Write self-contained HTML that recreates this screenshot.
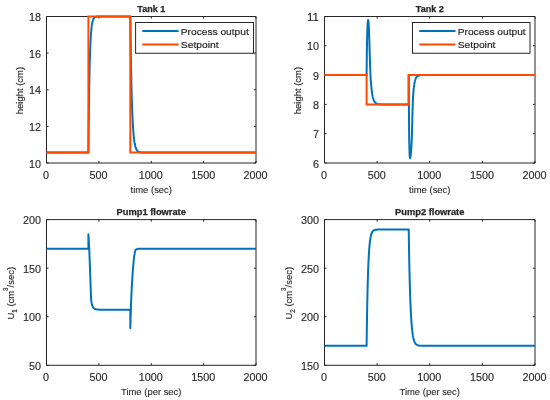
<!DOCTYPE html><html><head><meta charset="utf-8"><style>html,body{margin:0;padding:0;background:#fff;}svg{display:block;}text{font-family:"Liberation Sans", Arial, sans-serif;fill:#262626;}</style></head><body><svg width="550" height="400" viewBox="0 0 550 400"><rect width="550" height="400" fill="#fff"/><clipPath id="c1"><rect x="45.00" y="15.00" width="212.50" height="149.50"/></clipPath><path d="M46.50 16.50H256.00V163.00H46.50Z" fill="none" stroke="#262626" stroke-width="1"/><path d="M46.50 163.00V160.90M46.50 16.50V18.60M98.88 163.00V160.90M98.88 16.50V18.60M151.25 163.00V160.90M151.25 16.50V18.60M203.62 163.00V160.90M203.62 16.50V18.60M256.00 163.00V160.90M256.00 16.50V18.60M46.50 163.00H48.60M256.00 163.00H253.90M46.50 126.38H48.60M256.00 126.38H253.90M46.50 89.75H48.60M256.00 89.75H253.90M46.50 53.12H48.60M256.00 53.12H253.90M46.50 16.50H48.60M256.00 16.50H253.90" stroke="#262626" stroke-width="1" fill="none"/><g clip-path="url(#c1)" fill="none" stroke-width="2" stroke-linejoin="round"><path d="M46.50 152.56L48.59 152.56L50.69 152.56L52.78 152.56L54.88 152.56L56.98 152.56L59.07 152.56L61.16 152.56L63.26 152.56L65.36 152.56L67.45 152.56L69.55 152.56L71.64 152.56L73.73 152.56L75.83 152.56L77.92 152.56L80.02 152.56L82.12 152.56L84.21 152.56L86.31 152.56L88.40 152.56L88.40 152.56L88.45 147.01L88.50 141.68L88.56 136.57L88.61 131.67L88.66 126.97L88.71 122.47L88.77 118.14L88.82 113.99L88.87 110.01L88.92 106.20L88.98 102.54L89.03 99.03L89.08 95.66L89.13 92.43L89.19 89.33L89.24 86.36L89.29 83.51L89.34 80.77L89.40 78.15L89.45 75.63L89.50 73.22L89.55 70.90L89.60 68.68L89.66 66.55L89.71 64.51L89.76 62.55L89.81 60.67L89.87 58.87L89.92 57.14L89.97 55.48L90.02 53.89L90.08 52.37L90.13 50.90L90.18 49.50L90.23 48.15L90.29 46.86L90.34 45.62L90.39 44.43L90.44 43.29L90.50 42.20L90.55 41.15L90.60 40.14L90.65 39.18L90.70 38.25L90.76 37.37L90.81 36.51L90.86 35.70L90.91 34.91L90.97 34.16L91.02 33.44L91.07 32.75L91.12 32.09L91.18 31.45L91.23 30.84L91.28 30.26L91.33 29.69L91.39 29.16L91.44 28.64L91.49 28.14L91.54 27.67L91.59 27.21L91.65 26.78L91.70 26.36L91.75 25.95L91.80 25.57L91.86 25.20L91.91 24.84L91.96 24.50L92.01 24.18L92.07 23.86L92.12 23.56L92.17 23.27L92.22 23.00L92.28 22.73L92.33 22.48L92.38 22.23L92.43 22.00L92.49 21.78L92.54 21.56L92.59 21.35L92.64 21.16L92.69 20.97L92.75 20.78L92.80 20.61L92.85 20.44L92.90 20.28L92.96 20.13L93.01 19.98L93.06 19.84L93.11 19.70L93.17 19.57L93.22 19.44L93.27 19.32L93.32 19.21L93.38 19.10L93.43 18.99L93.48 18.89L93.53 18.79L93.59 18.70L93.64 18.61L93.69 18.52L93.74 18.44L93.79 18.36L93.85 18.29L93.90 18.21L93.95 18.14L94.00 18.08L94.06 18.01L94.11 17.95L94.16 17.89L94.21 17.83L94.27 17.78L94.32 17.73L94.37 17.68L94.42 17.63L94.48 17.58L94.53 17.54L94.58 17.50L94.63 17.46L94.69 17.42L94.74 17.38L94.79 17.34L94.84 17.31L94.89 17.28L94.95 17.24L95.00 17.21L95.05 17.18L95.10 17.16L95.16 17.13L95.21 17.10L95.26 17.08L95.31 17.06L95.37 17.03L95.42 17.01L95.47 16.99L95.52 16.97L95.58 16.95L95.63 16.93L95.68 16.92L95.73 16.90L95.78 16.88L95.84 16.87L95.89 16.85L95.94 16.84L95.99 16.82L96.05 16.81L96.10 16.80L96.15 16.79L96.20 16.77L96.26 16.76L96.31 16.75L96.36 16.74L96.41 16.73L96.47 16.72L96.52 16.71L96.57 16.70L96.62 16.70L96.68 16.69L96.73 16.68L96.78 16.67L96.83 16.67L96.88 16.66L96.94 16.65L96.99 16.65L97.04 16.64L97.09 16.63L97.15 16.63L97.20 16.62L97.25 16.62L97.30 16.61L97.36 16.61L97.41 16.61L97.46 16.60L97.51 16.60L97.57 16.59L97.62 16.59L97.67 16.59L97.72 16.58L97.78 16.58L97.83 16.58L97.88 16.57L97.93 16.57L97.98 16.57L98.04 16.56L98.09 16.56L98.14 16.56L98.19 16.56L98.25 16.55L98.30 16.55L98.35 16.55L98.40 16.55L98.46 16.55L98.51 16.54L98.56 16.54L98.61 16.54L98.67 16.54L98.72 16.54L98.77 16.54L98.82 16.53L98.88 16.53L98.93 16.53L98.98 16.53L99.03 16.53L99.08 16.53L99.14 16.53L99.19 16.53L99.24 16.52L99.29 16.52L99.35 16.52L99.40 16.52L99.45 16.52L99.50 16.52L99.56 16.52L99.61 16.52L99.66 16.52L99.71 16.52L99.77 16.52L99.82 16.52L99.87 16.51L99.92 16.51L99.97 16.51L100.03 16.51L100.08 16.51L100.13 16.51L100.18 16.51L100.24 16.51L100.29 16.51L100.34 16.51L100.39 16.51L100.45 16.51L100.50 16.51L100.55 16.51L100.60 16.51L100.66 16.51L100.71 16.51L100.76 16.51L100.81 16.51L100.87 16.51L100.92 16.51L100.97 16.51L101.02 16.51L101.07 16.51L101.13 16.51L101.18 16.51L101.23 16.51L101.28 16.50L101.34 16.50L101.39 16.50L101.44 16.50L101.49 16.50L101.55 16.50L101.60 16.50L101.65 16.50L101.70 16.50L101.76 16.50L101.81 16.50L101.86 16.50L101.91 16.50L101.97 16.50L102.02 16.50L102.07 16.50L102.12 16.50L102.17 16.50L102.23 16.50L102.28 16.50L102.33 16.50L102.38 16.50L102.44 16.50L102.49 16.50L102.54 16.50L102.59 16.50L102.65 16.50L102.70 16.50L102.75 16.50L102.80 16.50L102.86 16.50L102.91 16.50L102.96 16.50L103.01 16.50L103.06 16.50L103.12 16.50L103.17 16.50L103.22 16.50L103.27 16.50L103.33 16.50L103.38 16.50L103.43 16.50L103.48 16.50L103.54 16.50L103.59 16.50L103.64 16.50L103.69 16.50L103.75 16.50L103.80 16.50L103.85 16.50L103.90 16.50L103.96 16.50L104.01 16.50L104.06 16.50L104.11 16.50L104.16 16.50L104.22 16.50L104.27 16.50L104.32 16.50L104.37 16.50L104.43 16.50L104.48 16.50L104.53 16.50L104.58 16.50L104.64 16.50L104.69 16.50L104.74 16.50L104.79 16.50L104.85 16.50L104.90 16.50L104.95 16.50L105.00 16.50L105.06 16.50L105.11 16.50L105.16 16.50L107.25 16.50L109.35 16.50L111.44 16.50L113.54 16.50L115.64 16.50L117.73 16.50L119.83 16.50L121.92 16.50L124.02 16.50L126.11 16.50L128.20 16.50L130.30 16.50L130.30 16.50L130.35 20.82L130.40 25.00L130.46 29.05L130.51 32.97L130.56 36.77L130.61 40.44L130.67 44.00L130.72 47.45L130.77 50.78L130.82 54.02L130.88 57.14L130.93 60.17L130.98 63.11L131.03 65.94L131.09 68.69L131.14 71.36L131.19 73.93L131.24 76.43L131.30 78.85L131.35 81.19L131.40 83.45L131.45 85.65L131.50 87.77L131.56 89.83L131.61 91.82L131.66 93.75L131.71 95.61L131.77 97.42L131.82 99.17L131.87 100.87L131.92 102.51L131.98 104.10L132.03 105.63L132.08 107.12L132.13 108.57L132.19 109.96L132.24 111.32L132.29 112.62L132.34 113.89L132.39 115.12L132.45 116.31L132.50 117.46L132.55 118.57L132.60 119.65L132.66 120.70L132.71 121.71L132.76 122.69L132.81 123.64L132.87 124.55L132.92 125.44L132.97 126.30L133.02 127.14L133.08 127.94L133.13 128.73L133.18 129.48L133.23 130.22L133.29 130.92L133.34 131.61L133.39 132.28L133.44 132.92L133.49 133.54L133.55 134.15L133.60 134.73L133.65 135.30L133.70 135.85L133.76 136.38L133.81 136.89L133.86 137.39L133.91 137.87L133.97 138.34L134.02 138.79L134.07 139.23L134.12 139.65L134.18 140.06L134.23 140.46L134.28 140.84L134.33 141.21L134.39 141.57L134.44 141.92L134.49 142.26L134.54 142.59L134.59 142.90L134.65 143.21L134.70 143.51L134.75 143.79L134.80 144.07L134.86 144.34L134.91 144.60L134.96 144.85L135.01 145.10L135.07 145.34L135.12 145.57L135.17 145.79L135.22 146.00L135.28 146.21L135.33 146.41L135.38 146.61L135.43 146.80L135.49 146.98L135.54 147.16L135.59 147.33L135.64 147.49L135.69 147.66L135.75 147.81L135.80 147.96L135.85 148.11L135.90 148.25L135.96 148.39L136.01 148.52L136.06 148.65L136.11 148.77L136.17 148.89L136.22 149.01L136.27 149.12L136.32 149.23L136.38 149.34L136.43 149.44L136.48 149.54L136.53 149.63L136.58 149.73L136.64 149.82L136.69 149.90L136.74 149.99L136.79 150.07L136.85 150.15L136.90 150.23L136.95 150.30L137.00 150.37L137.06 150.44L137.11 150.51L137.16 150.57L137.21 150.64L137.27 150.70L137.32 150.76L137.37 150.81L137.42 150.87L137.48 150.92L137.53 150.98L137.58 151.03L137.63 151.07L137.68 151.12L137.74 151.17L137.79 151.21L137.84 151.25L137.89 151.30L137.95 151.34L138.00 151.38L138.05 151.41L138.10 151.45L138.16 151.48L138.21 151.52L138.26 151.55L138.31 151.58L138.37 151.62L138.42 151.65L138.47 151.67L138.52 151.70L138.58 151.73L138.63 151.76L138.68 151.78L138.73 151.81L138.78 151.83L138.84 151.85L138.89 151.88L138.94 151.90L138.99 151.92L139.05 151.94L139.10 151.96L139.15 151.98L139.20 152.00L139.26 152.01L139.31 152.03L139.36 152.05L139.41 152.07L139.47 152.08L139.52 152.10L139.57 152.11L139.62 152.13L139.68 152.14L139.73 152.15L139.78 152.17L139.83 152.18L139.88 152.19L139.94 152.20L139.99 152.21L140.04 152.22L140.09 152.24L140.15 152.25L140.20 152.26L140.25 152.27L140.30 152.27L140.36 152.28L140.41 152.29L140.46 152.30L140.51 152.31L140.57 152.32L140.62 152.33L140.67 152.33L140.72 152.34L140.78 152.35L140.83 152.35L140.88 152.36L140.93 152.37L140.98 152.37L141.04 152.38L141.09 152.38L141.14 152.39L141.19 152.40L141.25 152.40L141.30 152.41L141.35 152.41L141.40 152.42L141.46 152.42L141.51 152.43L141.56 152.43L141.61 152.43L141.67 152.44L141.72 152.44L141.77 152.45L141.82 152.45L141.87 152.45L141.93 152.46L141.98 152.46L142.03 152.46L142.08 152.47L142.14 152.47L142.19 152.47L142.24 152.47L142.29 152.48L142.35 152.48L142.40 152.48L142.45 152.49L142.50 152.49L142.56 152.49L142.61 152.49L142.66 152.49L142.71 152.50L142.77 152.50L142.82 152.50L142.87 152.50L142.92 152.50L142.97 152.51L143.03 152.51L143.08 152.51L143.13 152.51L143.18 152.51L143.24 152.51L143.29 152.52L143.34 152.52L143.39 152.52L143.45 152.52L143.50 152.52L143.55 152.52L143.60 152.52L143.66 152.53L143.71 152.53L143.76 152.53L143.81 152.53L143.87 152.53L143.92 152.53L143.97 152.53L144.02 152.53L144.07 152.53L144.13 152.53L144.18 152.54L144.23 152.54L144.28 152.54L144.34 152.54L144.39 152.54L144.44 152.54L144.49 152.54L144.55 152.54L144.60 152.54L144.65 152.54L144.70 152.54L144.76 152.54L144.81 152.54L144.86 152.54L144.91 152.55L144.97 152.55L145.02 152.55L145.07 152.55L145.12 152.55L145.17 152.55L145.23 152.55L145.28 152.55L145.33 152.55L145.38 152.55L145.44 152.55L145.49 152.55L145.54 152.55L145.59 152.55L145.65 152.55L145.70 152.55L145.75 152.55L145.80 152.55L145.86 152.55L145.91 152.55L145.96 152.55L146.01 152.55L146.06 152.55L146.12 152.55L146.17 152.55L146.22 152.55L146.27 152.55L146.33 152.55L146.38 152.56L146.43 152.56L146.48 152.56L146.54 152.56L146.59 152.56L146.64 152.56L146.69 152.56L146.75 152.56L146.80 152.56L146.85 152.56L146.90 152.56L146.96 152.56L147.01 152.56L147.06 152.56L149.16 152.56L151.25 152.56L153.34 152.56L155.44 152.56L157.53 152.56L159.63 152.56L161.72 152.56L163.82 152.56L165.92 152.56L168.01 152.56L170.11 152.56L172.20 152.56L174.30 152.56L176.39 152.56L178.49 152.56L180.58 152.56L182.68 152.56L184.77 152.56L186.87 152.56L188.96 152.56L191.06 152.56L193.15 152.56L195.25 152.56L197.34 152.56L199.44 152.56L201.53 152.56L203.62 152.56L205.72 152.56L207.81 152.56L209.91 152.56L212.00 152.56L214.10 152.56L216.19 152.56L218.29 152.56L220.38 152.56L222.48 152.56L224.57 152.56L226.67 152.56L228.76 152.56L230.86 152.56L232.96 152.56L235.05 152.56L237.15 152.56L239.24 152.56L241.34 152.56L243.43 152.56L245.53 152.56L247.62 152.56L249.72 152.56L251.81 152.56L253.91 152.56L256.00 152.56" stroke="#0072BD"/><path d="M46.50 152.56L88.40 152.56L88.40 16.50L130.30 16.50L130.30 152.56L256.00 152.56" stroke="#FF4A00" stroke-linejoin="miter" stroke-linecap="butt"/></g><text x="46.10" y="179.00" font-size="10.30" stroke="#262626" stroke-width="0.12" text-anchor="middle" textLength="6.01" lengthAdjust="spacingAndGlyphs">0</text><text x="98.47" y="179.00" font-size="10.30" stroke="#262626" stroke-width="0.12" text-anchor="middle" textLength="18.04" lengthAdjust="spacingAndGlyphs">500</text><text x="150.85" y="179.00" font-size="10.30" stroke="#262626" stroke-width="0.12" text-anchor="middle" textLength="24.05" lengthAdjust="spacingAndGlyphs">1000</text><text x="203.22" y="179.00" font-size="10.30" stroke="#262626" stroke-width="0.12" text-anchor="middle" textLength="24.05" lengthAdjust="spacingAndGlyphs">1500</text><text x="255.60" y="179.00" font-size="10.30" stroke="#262626" stroke-width="0.12" text-anchor="middle" textLength="24.05" lengthAdjust="spacingAndGlyphs">2000</text><text x="41.00" y="167.60" font-size="10.30" stroke="#262626" stroke-width="0.12" text-anchor="end" textLength="12.03" lengthAdjust="spacingAndGlyphs">10</text><text x="41.00" y="130.97" font-size="10.30" stroke="#262626" stroke-width="0.12" text-anchor="end" textLength="12.03" lengthAdjust="spacingAndGlyphs">12</text><text x="41.00" y="94.35" font-size="10.30" stroke="#262626" stroke-width="0.12" text-anchor="end" textLength="12.03" lengthAdjust="spacingAndGlyphs">14</text><text x="41.00" y="57.73" font-size="10.30" stroke="#262626" stroke-width="0.12" text-anchor="end" textLength="12.03" lengthAdjust="spacingAndGlyphs">16</text><text x="41.00" y="21.10" font-size="10.30" stroke="#262626" stroke-width="0.12" text-anchor="end" textLength="12.03" lengthAdjust="spacingAndGlyphs">18</text><text x="151.25" y="12.00" font-size="8.50" font-weight="bold" stroke="#262626" stroke-width="0.25" text-anchor="middle" textLength="27.9" lengthAdjust="spacingAndGlyphs">Tank 1</text><text x="151.25" y="192.60" font-size="9.45" stroke="#262626" stroke-width="0.1" text-anchor="middle">time (sec)</text><text transform="translate(22.50 90.55) rotate(-90)" x="0" y="0" font-size="9.45" stroke="#262626" stroke-width="0.15" text-anchor="middle">height (cm)</text><rect x="135.60" y="22.50" width="117.90" height="30.75" fill="#fff" stroke="#262626" stroke-width="1"/><path d="M142.30 31.10H178.60" stroke="#0072BD" stroke-width="2"/><path d="M142.30 44.50H178.60" stroke="#FF4A00" stroke-width="2"/><text x="180.80" y="34.60" font-size="9.75" stroke="#262626" stroke-width="0.18" textLength="68.0" lengthAdjust="spacingAndGlyphs">Process output</text><text x="180.80" y="47.60" font-size="9.75" stroke="#262626" stroke-width="0.18" textLength="37.8" lengthAdjust="spacingAndGlyphs">Setpoint</text><clipPath id="c2"><rect x="323.00" y="15.00" width="213.50" height="149.50"/></clipPath><path d="M324.50 16.50H535.00V163.00H324.50Z" fill="none" stroke="#262626" stroke-width="1"/><path d="M324.50 163.00V160.90M324.50 16.50V18.60M377.12 163.00V160.90M377.12 16.50V18.60M429.75 163.00V160.90M429.75 16.50V18.60M482.38 163.00V160.90M482.38 16.50V18.60M535.00 163.00V160.90M535.00 16.50V18.60M324.50 163.00H326.60M535.00 163.00H532.90M324.50 133.70H326.60M535.00 133.70H532.90M324.50 104.40H326.60M535.00 104.40H532.90M324.50 75.10H326.60M535.00 75.10H532.90M324.50 45.80H326.60M535.00 45.80H532.90M324.50 16.50H326.60M535.00 16.50H532.90" stroke="#262626" stroke-width="1" fill="none"/><g clip-path="url(#c2)" fill="none" stroke-width="2" stroke-linejoin="round"><path d="M324.50 75.10L326.61 75.10L328.71 75.10L330.81 75.10L332.92 75.10L335.02 75.10L337.13 75.10L339.24 75.10L341.34 75.10L343.44 75.10L345.55 75.10L347.65 75.10L349.76 75.10L351.87 75.10L353.97 75.10L356.07 75.10L358.18 75.10L360.28 75.10L362.39 75.10L364.50 75.10L366.60 75.10L366.60 75.10L366.65 69.92L366.71 65.00L366.76 60.38L366.81 56.11L366.86 52.21L366.92 48.73L366.97 45.55L367.02 42.57L367.07 39.80L367.13 37.30L367.18 35.09L367.23 33.20L367.28 31.52L367.34 29.92L367.39 28.41L367.44 27.03L367.49 25.80L367.55 24.74L367.60 23.88L367.65 23.24L367.71 22.72L367.76 22.23L367.81 21.77L367.86 21.35L367.92 20.97L367.97 20.65L368.02 20.38L368.07 20.18L368.13 20.06L368.18 20.02L368.23 20.09L368.28 20.28L368.34 20.60L368.39 21.01L368.44 21.50L368.49 22.06L368.55 22.68L368.60 23.34L368.65 24.02L368.70 24.70L368.76 25.49L368.81 26.46L368.86 27.58L368.92 28.82L368.97 30.18L369.02 31.61L369.07 33.09L369.13 34.60L369.18 36.11L369.23 37.60L369.28 39.11L369.34 40.71L369.39 42.39L369.44 44.11L369.49 45.87L369.55 47.65L369.60 49.43L369.65 51.19L369.70 52.92L369.76 54.59L369.81 56.27L369.86 57.99L369.92 59.76L369.97 61.53L370.02 63.29L370.07 65.02L370.13 66.70L370.18 68.31L370.23 69.83L370.28 71.24L370.34 72.51L370.39 73.63L370.44 74.65L370.49 75.62L370.55 76.55L370.60 77.44L370.65 78.29L370.70 79.10L370.76 79.88L370.81 80.63L370.86 81.34L370.92 82.03L370.97 82.69L371.02 83.32L371.07 83.93L371.13 84.52L371.18 85.09L371.23 85.65L371.28 86.19L371.34 86.72L371.39 87.25L371.44 87.76L371.49 88.27L371.55 88.76L371.60 89.25L371.65 89.72L371.70 90.19L371.76 90.64L371.81 91.08L371.86 91.51L371.92 91.93L371.97 92.33L372.02 92.72L372.07 93.10L372.13 93.47L372.18 93.82L372.23 94.15L372.28 94.48L372.34 94.78L372.39 95.07L372.44 95.35L372.49 95.61L372.55 95.86L372.60 96.10L372.65 96.34L372.70 96.57L372.76 96.80L372.81 97.02L372.86 97.24L372.92 97.45L372.97 97.65L373.02 97.85L373.07 98.05L373.13 98.24L373.18 98.42L373.23 98.60L373.28 98.77L373.34 98.94L373.39 99.11L373.44 99.27L373.49 99.42L373.55 99.57L373.60 99.71L373.65 99.85L373.70 99.99L373.76 100.12L373.81 100.24L373.86 100.36L373.91 100.48L373.97 100.59L374.02 100.70L374.07 100.81L374.13 100.91L374.18 101.02L374.23 101.12L374.28 101.22L374.34 101.32L374.39 101.41L374.44 101.51L374.49 101.60L374.55 101.69L374.60 101.78L374.65 101.86L374.70 101.95L374.76 102.03L374.81 102.11L374.86 102.19L374.91 102.26L374.97 102.33L375.02 102.40L375.07 102.47L375.13 102.53L375.18 102.59L375.23 102.65L375.28 102.71L375.34 102.76L375.39 102.81L375.44 102.85L375.49 102.90L375.55 102.93L375.60 102.97L375.65 103.01L375.70 103.05L375.76 103.08L375.81 103.12L375.86 103.15L375.91 103.19L375.97 103.22L376.02 103.25L376.07 103.29L376.13 103.32L376.18 103.35L376.23 103.38L376.28 103.41L376.34 103.44L376.39 103.47L376.44 103.50L376.49 103.53L376.55 103.56L376.60 103.59L376.65 103.61L376.70 103.64L376.76 103.67L376.81 103.69L376.86 103.72L376.91 103.74L376.97 103.76L377.02 103.78L377.07 103.81L377.12 103.83L377.18 103.85L377.23 103.87L377.28 103.89L377.34 103.91L377.39 103.92L377.44 103.94L377.49 103.96L377.55 103.97L377.60 103.99L377.65 104.00L377.70 104.02L377.76 104.03L377.81 104.04L377.86 104.05L377.91 104.06L377.97 104.07L378.02 104.08L378.07 104.09L378.12 104.10L378.18 104.11L378.23 104.11L378.28 104.12L378.34 104.13L378.39 104.13L378.44 104.14L378.49 104.15L378.55 104.15L378.60 104.16L378.65 104.16L378.70 104.17L378.76 104.18L378.81 104.18L378.86 104.19L378.91 104.19L378.97 104.20L379.02 104.21L379.07 104.21L379.12 104.22L379.18 104.22L379.23 104.23L379.28 104.23L379.34 104.24L379.39 104.24L379.44 104.25L379.49 104.25L379.55 104.26L379.60 104.26L379.65 104.27L379.70 104.27L379.76 104.28L379.81 104.28L379.86 104.29L379.91 104.29L379.97 104.30L380.02 104.30L380.07 104.30L380.12 104.31L380.18 104.31L380.23 104.32L380.28 104.32L380.34 104.32L380.39 104.33L380.44 104.33L380.49 104.34L380.55 104.34L380.60 104.34L380.65 104.35L380.70 104.35L380.76 104.35L380.81 104.35L380.86 104.36L380.91 104.36L380.97 104.36L381.02 104.37L381.07 104.37L381.12 104.37L381.18 104.37L381.23 104.38L381.28 104.38L381.33 104.38L381.39 104.38L381.44 104.38L381.49 104.39L381.55 104.39L381.60 104.39L381.65 104.39L381.70 104.39L381.76 104.39L381.81 104.39L381.86 104.39L381.91 104.40L381.97 104.40L382.02 104.40L382.07 104.40L382.12 104.40L382.18 104.40L382.23 104.40L382.28 104.40L382.33 104.40L382.39 104.40L382.44 104.40L382.49 104.40L382.55 104.40L382.60 104.40L382.65 104.40L382.70 104.40L382.76 104.40L382.81 104.40L382.86 104.40L382.91 104.40L382.97 104.40L383.02 104.40L383.07 104.40L383.12 104.40L383.18 104.40L383.23 104.40L383.28 104.40L383.33 104.40L383.39 104.40L383.44 104.40L385.55 104.40L387.65 104.40L389.75 104.40L391.86 104.40L393.97 104.40L396.07 104.40L398.18 104.40L400.28 104.40L402.38 104.40L404.49 104.40L406.60 104.40L408.70 104.40L408.70 75.10L408.75 82.42L408.81 89.75L408.86 97.08L408.91 104.40L408.96 112.36L409.02 120.74L409.07 128.27L409.12 133.70L409.17 137.36L409.23 140.50L409.28 143.18L409.33 145.48L409.38 147.48L409.44 149.23L409.49 150.87L409.54 152.42L409.59 153.83L409.65 155.03L409.70 155.96L409.75 156.55L409.81 156.95L409.86 157.30L409.91 157.59L409.96 157.82L410.02 157.97L410.07 158.02L410.12 157.98L410.17 157.89L410.23 157.74L410.28 157.55L410.33 157.33L410.38 157.08L410.44 156.82L410.49 156.55L410.54 156.26L410.59 155.89L410.65 155.47L410.70 155.00L410.75 154.49L410.81 153.94L410.86 153.37L410.91 152.78L410.96 152.18L411.02 151.57L411.07 150.96L411.12 150.32L411.17 149.65L411.23 148.95L411.28 148.22L411.33 147.45L411.38 146.64L411.44 145.79L411.49 144.90L411.54 143.95L411.59 142.95L411.65 141.87L411.70 140.72L411.75 139.48L411.80 138.16L411.86 136.76L411.91 135.27L411.96 133.70L412.02 131.91L412.07 129.84L412.12 127.56L412.17 125.17L412.23 122.75L412.28 120.38L412.33 118.14L412.38 116.12L412.44 114.26L412.49 112.44L412.54 110.67L412.59 108.96L412.65 107.33L412.70 105.77L412.75 104.31L412.80 102.93L412.86 101.63L412.91 100.35L412.96 99.12L413.02 97.95L413.07 96.86L413.12 95.85L413.17 94.94L413.23 94.15L413.28 93.43L413.33 92.76L413.38 92.13L413.44 91.53L413.49 90.96L413.54 90.43L413.59 89.92L413.65 89.43L413.70 88.96L413.75 88.51L413.80 88.07L413.86 87.65L413.91 87.23L413.96 86.82L414.02 86.42L414.07 86.02L414.12 85.63L414.17 85.26L414.23 84.89L414.28 84.53L414.33 84.19L414.38 83.86L414.44 83.54L414.49 83.23L414.54 82.93L414.59 82.65L414.65 82.38L414.70 82.13L414.75 81.89L414.80 81.65L414.86 81.41L414.91 81.17L414.96 80.93L415.01 80.70L415.07 80.48L415.12 80.26L415.17 80.04L415.23 79.84L415.28 79.63L415.33 79.44L415.38 79.25L415.44 79.08L415.49 78.91L415.54 78.75L415.59 78.60L415.65 78.46L415.70 78.34L415.75 78.22L415.80 78.12L415.86 78.03L415.91 77.95L415.96 77.87L416.01 77.79L416.07 77.72L416.12 77.64L416.17 77.57L416.23 77.50L416.28 77.43L416.33 77.36L416.38 77.30L416.44 77.24L416.49 77.17L416.54 77.11L416.59 77.06L416.65 77.00L416.70 76.94L416.75 76.89L416.80 76.84L416.86 76.79L416.91 76.74L416.96 76.69L417.01 76.65L417.07 76.60L417.12 76.56L417.17 76.51L417.23 76.47L417.28 76.43L417.33 76.40L417.38 76.36L417.44 76.32L417.49 76.29L417.54 76.26L417.59 76.22L417.65 76.19L417.70 76.16L417.75 76.13L417.80 76.10L417.86 76.08L417.91 76.05L417.96 76.03L418.01 76.00L418.07 75.98L418.12 75.96L418.17 75.93L418.23 75.91L418.28 75.89L418.33 75.87L418.38 75.84L418.44 75.82L418.49 75.80L418.54 75.78L418.59 75.76L418.65 75.74L418.70 75.72L418.75 75.69L418.80 75.67L418.86 75.65L418.91 75.63L418.96 75.61L419.01 75.59L419.07 75.57L419.12 75.55L419.17 75.54L419.23 75.52L419.28 75.50L419.33 75.48L419.38 75.46L419.44 75.45L419.49 75.43L419.54 75.41L419.59 75.39L419.65 75.38L419.70 75.36L419.75 75.35L419.80 75.33L419.86 75.32L419.91 75.30L419.96 75.29L420.01 75.28L420.07 75.26L420.12 75.25L420.17 75.24L420.22 75.23L420.28 75.22L420.33 75.21L420.38 75.19L420.44 75.18L420.49 75.18L420.54 75.17L420.59 75.16L420.65 75.15L420.70 75.14L420.75 75.14L420.80 75.13L420.86 75.12L420.91 75.12L420.96 75.12L421.01 75.11L421.07 75.11L421.12 75.11L421.17 75.10L421.22 75.10L421.28 75.10L421.33 75.10L421.38 75.10L421.44 75.10L421.49 75.10L421.54 75.10L421.59 75.10L421.65 75.10L421.70 75.10L421.75 75.10L421.80 75.10L421.86 75.10L421.91 75.10L421.96 75.10L422.01 75.10L422.07 75.10L422.12 75.10L422.17 75.10L422.22 75.10L422.28 75.10L422.33 75.10L422.38 75.10L422.44 75.10L422.49 75.10L422.54 75.10L422.59 75.10L422.65 75.10L422.70 75.10L422.75 75.10L422.80 75.10L422.86 75.10L422.91 75.10L422.96 75.10L423.01 75.10L423.07 75.10L423.12 75.10L423.17 75.10L423.22 75.10L423.28 75.10L423.33 75.10L423.38 75.10L423.44 75.10L423.49 75.10L423.54 75.10L423.59 75.10L423.65 75.10L423.70 75.10L423.75 75.10L423.80 75.10L423.86 75.10L423.91 75.10L423.96 75.10L424.01 75.10L424.07 75.10L424.12 75.10L424.17 75.10L424.22 75.10L424.28 75.10L424.33 75.10L424.38 75.10L424.43 75.10L424.49 75.10L424.54 75.10L424.59 75.10L424.65 75.10L424.70 75.10L424.75 75.10L424.80 75.10L424.86 75.10L424.91 75.10L424.96 75.10L425.01 75.10L425.07 75.10L425.12 75.10L425.17 75.10L425.22 75.10L425.28 75.10L425.33 75.10L425.38 75.10L425.43 75.10L425.49 75.10L425.54 75.10L427.64 75.10L429.75 75.10L431.86 75.10L433.96 75.10L436.06 75.10L438.17 75.10L440.27 75.10L442.38 75.10L444.49 75.10L446.59 75.10L448.69 75.10L450.80 75.10L452.90 75.10L455.01 75.10L457.12 75.10L459.22 75.10L461.32 75.10L463.43 75.10L465.53 75.10L467.64 75.10L469.75 75.10L471.85 75.10L473.96 75.10L476.06 75.10L478.16 75.10L480.27 75.10L482.38 75.10L484.48 75.10L486.59 75.10L488.69 75.10L490.79 75.10L492.90 75.10L495.00 75.10L497.11 75.10L499.22 75.10L501.32 75.10L503.43 75.10L505.53 75.10L507.63 75.10L509.74 75.10L511.85 75.10L513.95 75.10L516.06 75.10L518.16 75.10L520.26 75.10L522.37 75.10L524.48 75.10L526.58 75.10L528.68 75.10L530.79 75.10L532.89 75.10L535.00 75.10" stroke="#0072BD"/><path d="M324.50 75.10L366.60 75.10L366.60 104.40L408.70 104.40L408.70 75.10L535.00 75.10" stroke="#FF4A00" stroke-linejoin="miter" stroke-linecap="butt"/></g><text x="324.10" y="179.00" font-size="10.30" stroke="#262626" stroke-width="0.12" text-anchor="middle" textLength="6.01" lengthAdjust="spacingAndGlyphs">0</text><text x="376.73" y="179.00" font-size="10.30" stroke="#262626" stroke-width="0.12" text-anchor="middle" textLength="18.04" lengthAdjust="spacingAndGlyphs">500</text><text x="429.35" y="179.00" font-size="10.30" stroke="#262626" stroke-width="0.12" text-anchor="middle" textLength="24.05" lengthAdjust="spacingAndGlyphs">1000</text><text x="481.98" y="179.00" font-size="10.30" stroke="#262626" stroke-width="0.12" text-anchor="middle" textLength="24.05" lengthAdjust="spacingAndGlyphs">1500</text><text x="534.60" y="179.00" font-size="10.30" stroke="#262626" stroke-width="0.12" text-anchor="middle" textLength="24.05" lengthAdjust="spacingAndGlyphs">2000</text><text x="319.00" y="167.60" font-size="10.30" stroke="#262626" stroke-width="0.12" text-anchor="end" textLength="6.01" lengthAdjust="spacingAndGlyphs">6</text><text x="319.00" y="138.30" font-size="10.30" stroke="#262626" stroke-width="0.12" text-anchor="end" textLength="6.01" lengthAdjust="spacingAndGlyphs">7</text><text x="319.00" y="109.00" font-size="10.30" stroke="#262626" stroke-width="0.12" text-anchor="end" textLength="6.01" lengthAdjust="spacingAndGlyphs">8</text><text x="319.00" y="79.70" font-size="10.30" stroke="#262626" stroke-width="0.12" text-anchor="end" textLength="6.01" lengthAdjust="spacingAndGlyphs">9</text><text x="319.00" y="50.40" font-size="10.30" stroke="#262626" stroke-width="0.12" text-anchor="end" textLength="12.03" lengthAdjust="spacingAndGlyphs">10</text><text x="319.00" y="21.10" font-size="10.30" stroke="#262626" stroke-width="0.12" text-anchor="end" textLength="12.03" lengthAdjust="spacingAndGlyphs">11</text><text x="429.75" y="12.00" font-size="8.50" font-weight="bold" stroke="#262626" stroke-width="0.25" text-anchor="middle" textLength="27.9" lengthAdjust="spacingAndGlyphs">Tank 2</text><text x="429.75" y="192.60" font-size="9.45" stroke="#262626" stroke-width="0.1" text-anchor="middle">time (sec)</text><text transform="translate(300.50 90.55) rotate(-90)" x="0" y="0" font-size="9.45" stroke="#262626" stroke-width="0.15" text-anchor="middle">height (cm)</text><rect x="412.50" y="22.50" width="117.50" height="30.75" fill="#fff" stroke="#262626" stroke-width="1"/><path d="M419.20 31.10H455.50" stroke="#0072BD" stroke-width="2"/><path d="M419.20 44.50H455.50" stroke="#FF4A00" stroke-width="2"/><text x="457.70" y="34.60" font-size="9.75" stroke="#262626" stroke-width="0.18" textLength="68.0" lengthAdjust="spacingAndGlyphs">Process output</text><text x="457.70" y="47.60" font-size="9.75" stroke="#262626" stroke-width="0.18" textLength="37.8" lengthAdjust="spacingAndGlyphs">Setpoint</text><clipPath id="c3"><rect x="45.00" y="218.10" width="212.50" height="148.70"/></clipPath><path d="M46.50 219.60H256.00V365.30H46.50Z" fill="none" stroke="#262626" stroke-width="1"/><path d="M46.50 365.30V363.20M46.50 219.60V221.70M98.88 365.30V363.20M98.88 219.60V221.70M151.25 365.30V363.20M151.25 219.60V221.70M203.62 365.30V363.20M203.62 219.60V221.70M256.00 365.30V363.20M256.00 219.60V221.70M46.50 365.30H48.60M256.00 365.30H253.90M46.50 316.73H48.60M256.00 316.73H253.90M46.50 268.17H48.60M256.00 268.17H253.90M46.50 219.60H48.60M256.00 219.60H253.90" stroke="#262626" stroke-width="1" fill="none"/><g clip-path="url(#c3)" fill="none" stroke-width="2" stroke-linejoin="round"><path d="M46.50 248.74L48.59 248.74L50.69 248.74L52.78 248.74L54.88 248.74L56.98 248.74L59.07 248.74L61.16 248.74L63.26 248.74L65.36 248.74L67.45 248.74L69.55 248.74L71.64 248.74L73.73 248.74L75.83 248.74L77.92 248.74L80.02 248.74L82.12 248.74L84.21 248.74L86.31 248.74L88.40 248.74L88.40 234.36L88.45 235.16L88.50 235.99L88.56 236.83L88.61 237.70L88.66 238.58L88.71 239.49L88.77 240.42L88.82 241.37L88.87 242.34L88.92 243.33L88.98 244.35L89.03 245.38L89.08 246.42L89.13 247.49L89.19 248.58L89.24 249.68L89.29 250.81L89.34 251.99L89.40 253.21L89.45 254.46L89.50 255.75L89.55 257.07L89.60 258.42L89.66 259.79L89.71 261.19L89.76 262.60L89.81 264.03L89.87 265.46L89.92 266.91L89.97 268.35L90.02 269.80L90.08 271.24L90.13 272.68L90.18 274.11L90.23 275.52L90.29 276.92L90.34 278.30L90.39 279.65L90.44 281.02L90.50 282.47L90.55 283.98L90.60 285.54L90.65 287.13L90.70 288.71L90.76 290.28L90.81 291.80L90.86 293.27L90.91 294.66L90.97 295.94L91.02 297.10L91.07 298.11L91.12 298.96L91.18 299.62L91.23 300.11L91.28 300.56L91.33 300.98L91.39 301.36L91.44 301.73L91.49 302.07L91.54 302.39L91.59 302.68L91.65 302.96L91.70 303.22L91.75 303.47L91.80 303.69L91.86 303.91L91.91 304.12L91.96 304.31L92.01 304.50L92.07 304.68L92.12 304.86L92.17 305.03L92.22 305.20L92.28 305.36L92.33 305.53L92.38 305.69L92.43 305.84L92.49 305.99L92.54 306.14L92.59 306.28L92.64 306.42L92.69 306.55L92.75 306.68L92.80 306.81L92.85 306.92L92.90 307.04L92.96 307.14L93.01 307.25L93.06 307.34L93.11 307.43L93.17 307.51L93.22 307.59L93.27 307.66L93.32 307.72L93.38 307.78L93.43 307.83L93.48 307.87L93.53 307.92L93.59 307.97L93.64 308.02L93.69 308.06L93.74 308.11L93.79 308.15L93.85 308.20L93.90 308.24L93.95 308.28L94.00 308.32L94.06 308.36L94.11 308.41L94.16 308.45L94.21 308.49L94.27 308.52L94.32 308.56L94.37 308.60L94.42 308.64L94.48 308.67L94.53 308.71L94.58 308.74L94.63 308.78L94.69 308.81L94.74 308.84L94.79 308.88L94.84 308.91L94.89 308.94L94.95 308.97L95.00 309.00L95.05 309.03L95.10 309.05L95.16 309.08L95.21 309.11L95.26 309.13L95.31 309.16L95.37 309.18L95.42 309.21L95.47 309.23L95.52 309.25L95.58 309.27L95.63 309.29L95.68 309.31L95.73 309.33L95.78 309.35L95.84 309.37L95.89 309.38L95.94 309.40L95.99 309.42L96.05 309.43L96.10 309.44L96.15 309.46L96.20 309.47L96.26 309.48L96.31 309.49L96.36 309.50L96.41 309.51L96.47 309.52L96.52 309.52L96.57 309.53L96.62 309.53L96.68 309.54L96.73 309.54L96.78 309.55L96.83 309.55L96.88 309.55L96.94 309.55L96.99 309.55L97.04 309.56L97.09 309.56L97.15 309.56L97.20 309.56L97.25 309.57L97.30 309.57L97.36 309.57L97.41 309.57L97.46 309.57L97.51 309.58L97.57 309.58L97.62 309.58L97.67 309.58L97.72 309.58L97.78 309.59L97.83 309.59L97.88 309.59L97.93 309.59L97.98 309.59L98.04 309.59L98.09 309.60L98.14 309.60L98.19 309.60L98.25 309.60L98.30 309.60L98.35 309.60L98.40 309.61L98.46 309.61L98.51 309.61L98.56 309.61L98.61 309.61L98.67 309.61L98.72 309.61L98.77 309.62L98.82 309.62L98.88 309.62L98.93 309.62L98.98 309.62L99.03 309.62L99.08 309.62L99.14 309.62L99.19 309.62L99.24 309.63L99.29 309.63L99.35 309.63L99.40 309.63L99.45 309.63L99.50 309.63L99.56 309.63L99.61 309.63L99.66 309.63L99.71 309.63L99.77 309.63L99.82 309.64L99.87 309.64L99.92 309.64L99.97 309.64L100.03 309.64L100.08 309.64L100.13 309.64L100.18 309.64L100.24 309.64L100.29 309.64L100.34 309.64L100.39 309.64L100.45 309.64L100.50 309.64L100.55 309.64L100.60 309.64L100.66 309.64L100.71 309.64L100.76 309.64L100.81 309.64L100.87 309.64L100.92 309.64L100.97 309.64L101.02 309.64L101.07 309.64L101.13 309.64L101.18 309.64L101.23 309.64L101.28 309.64L101.34 309.64L101.39 309.64L101.44 309.64L101.49 309.64L101.55 309.64L101.60 309.64L101.65 309.64L101.70 309.64L101.76 309.64L101.81 309.64L101.86 309.64L101.91 309.64L101.97 309.64L102.02 309.64L102.07 309.64L102.12 309.64L102.17 309.64L102.23 309.64L102.28 309.64L102.33 309.64L102.38 309.64L102.44 309.64L102.49 309.64L102.54 309.64L102.59 309.64L102.65 309.64L102.70 309.64L102.75 309.64L102.80 309.64L102.86 309.64L102.91 309.64L102.96 309.64L103.01 309.64L103.06 309.64L103.12 309.64L103.17 309.64L103.22 309.64L103.27 309.64L103.33 309.64L103.38 309.64L103.43 309.64L103.48 309.64L103.54 309.64L103.59 309.64L103.64 309.64L103.69 309.64L103.75 309.64L103.80 309.64L103.85 309.64L103.90 309.64L103.96 309.64L104.01 309.64L104.06 309.64L104.11 309.64L104.16 309.64L104.22 309.64L104.27 309.64L104.32 309.64L104.37 309.64L104.43 309.64L104.48 309.64L104.53 309.64L104.58 309.64L104.64 309.64L104.69 309.64L104.74 309.64L104.79 309.64L104.85 309.64L104.90 309.64L104.95 309.64L105.00 309.64L105.06 309.64L105.11 309.64L105.16 309.64L107.25 309.64L109.35 309.64L111.44 309.64L113.54 309.64L115.64 309.64L117.73 309.64L119.83 309.64L121.92 309.64L124.02 309.64L126.11 309.64L128.20 309.64L130.30 309.64L130.30 328.20L130.35 326.30L130.40 324.42L130.46 322.55L130.51 320.70L130.56 318.87L130.61 317.07L130.67 315.31L130.72 313.57L130.77 311.87L130.82 310.22L130.88 308.61L130.93 307.04L130.98 305.53L131.03 304.08L131.09 302.68L131.14 301.34L131.19 300.08L131.24 298.86L131.30 297.67L131.35 296.50L131.40 295.35L131.45 294.21L131.50 293.10L131.56 292.01L131.61 290.93L131.66 289.88L131.71 288.84L131.77 287.83L131.82 286.83L131.87 285.84L131.92 284.88L131.98 283.93L132.03 283.00L132.08 282.09L132.13 281.20L132.19 280.32L132.24 279.46L132.29 278.61L132.34 277.78L132.39 276.97L132.45 276.17L132.50 275.39L132.55 274.62L132.60 273.87L132.66 273.13L132.71 272.40L132.76 271.69L132.81 271.00L132.87 270.32L132.92 269.65L132.97 268.99L133.02 268.33L133.08 267.68L133.13 267.03L133.18 266.39L133.23 265.76L133.29 265.13L133.34 264.52L133.39 263.91L133.44 263.31L133.49 262.73L133.55 262.15L133.60 261.59L133.65 261.04L133.70 260.50L133.76 259.98L133.81 259.46L133.86 258.97L133.91 258.49L133.97 258.02L134.02 257.58L134.07 257.14L134.12 256.73L134.18 256.34L134.23 255.96L134.28 255.61L134.33 255.27L134.39 254.96L134.44 254.65L134.49 254.35L134.54 254.05L134.59 253.75L134.65 253.46L134.70 253.17L134.75 252.89L134.80 252.61L134.86 252.34L134.91 252.08L134.96 251.83L135.01 251.59L135.07 251.37L135.12 251.15L135.17 250.95L135.22 250.76L135.28 250.59L135.33 250.43L135.38 250.29L135.43 250.17L135.49 250.06L135.54 249.98L135.59 249.92L135.64 249.87L135.69 249.82L135.75 249.78L135.80 249.73L135.85 249.69L135.90 249.65L135.96 249.61L136.01 249.57L136.06 249.53L136.11 249.50L136.17 249.46L136.22 249.43L136.27 249.40L136.32 249.37L136.38 249.34L136.43 249.31L136.48 249.28L136.53 249.25L136.58 249.23L136.64 249.21L136.69 249.18L136.74 249.16L136.79 249.14L136.85 249.12L136.90 249.10L136.95 249.08L137.00 249.07L137.06 249.05L137.11 249.03L137.16 249.02L137.21 249.01L137.27 249.00L137.32 248.98L137.37 248.97L137.42 248.96L137.48 248.96L137.53 248.95L137.58 248.94L137.63 248.93L137.68 248.93L137.74 248.92L137.79 248.92L137.84 248.91L137.89 248.91L137.95 248.90L138.00 248.90L138.05 248.89L138.10 248.89L138.16 248.88L138.21 248.88L138.26 248.87L138.31 248.87L138.37 248.86L138.42 248.86L138.47 248.85L138.52 248.85L138.58 248.84L138.63 248.84L138.68 248.83L138.73 248.83L138.78 248.83L138.84 248.82L138.89 248.82L138.94 248.81L138.99 248.81L139.05 248.81L139.10 248.80L139.15 248.80L139.20 248.80L139.26 248.79L139.31 248.79L139.36 248.79L139.41 248.78L139.47 248.78L139.52 248.78L139.57 248.78L139.62 248.77L139.68 248.77L139.73 248.77L139.78 248.77L139.83 248.76L139.88 248.76L139.94 248.76L139.99 248.76L140.04 248.76L140.09 248.75L140.15 248.75L140.20 248.75L140.25 248.75L140.30 248.75L140.36 248.75L140.41 248.75L140.46 248.75L140.51 248.74L140.57 248.74L140.62 248.74L140.67 248.74L140.72 248.74L140.78 248.74L140.83 248.74L140.88 248.74L140.93 248.74L140.98 248.74L141.04 248.74L141.09 248.74L141.14 248.74L141.19 248.74L141.25 248.74L141.30 248.74L141.35 248.74L141.40 248.74L141.46 248.74L141.51 248.74L141.56 248.74L141.61 248.74L141.67 248.74L141.72 248.74L141.77 248.74L141.82 248.74L141.87 248.74L141.93 248.74L141.98 248.74L142.03 248.74L142.08 248.74L142.14 248.74L142.19 248.74L142.24 248.74L142.29 248.74L142.35 248.74L142.40 248.74L142.45 248.74L142.50 248.74L142.56 248.74L142.61 248.74L142.66 248.74L142.71 248.74L142.77 248.74L142.82 248.74L142.87 248.74L142.92 248.74L142.97 248.74L143.03 248.74L143.08 248.74L143.13 248.74L143.18 248.74L143.24 248.74L143.29 248.74L143.34 248.74L143.39 248.74L143.45 248.74L143.50 248.74L143.55 248.74L143.60 248.74L143.66 248.74L143.71 248.74L143.76 248.74L143.81 248.74L143.87 248.74L143.92 248.74L143.97 248.74L144.02 248.74L144.07 248.74L144.13 248.74L144.18 248.74L144.23 248.74L144.28 248.74L144.34 248.74L144.39 248.74L144.44 248.74L144.49 248.74L144.55 248.74L144.60 248.74L144.65 248.74L144.70 248.74L144.76 248.74L144.81 248.74L144.86 248.74L144.91 248.74L144.97 248.74L145.02 248.74L145.07 248.74L145.12 248.74L145.17 248.74L145.23 248.74L145.28 248.74L145.33 248.74L145.38 248.74L145.44 248.74L145.49 248.74L145.54 248.74L145.59 248.74L145.65 248.74L145.70 248.74L145.75 248.74L145.80 248.74L145.86 248.74L145.91 248.74L145.96 248.74L146.01 248.74L146.06 248.74L146.12 248.74L146.17 248.74L146.22 248.74L146.27 248.74L146.33 248.74L146.38 248.74L146.43 248.74L146.48 248.74L146.54 248.74L146.59 248.74L146.64 248.74L146.69 248.74L146.75 248.74L146.80 248.74L146.85 248.74L146.90 248.74L146.96 248.74L147.01 248.74L147.06 248.74L149.16 248.74L151.25 248.74L153.34 248.74L155.44 248.74L157.53 248.74L159.63 248.74L161.72 248.74L163.82 248.74L165.92 248.74L168.01 248.74L170.11 248.74L172.20 248.74L174.30 248.74L176.39 248.74L178.49 248.74L180.58 248.74L182.68 248.74L184.77 248.74L186.87 248.74L188.96 248.74L191.06 248.74L193.15 248.74L195.25 248.74L197.34 248.74L199.44 248.74L201.53 248.74L203.62 248.74L205.72 248.74L207.81 248.74L209.91 248.74L212.00 248.74L214.10 248.74L216.19 248.74L218.29 248.74L220.38 248.74L222.48 248.74L224.57 248.74L226.67 248.74L228.76 248.74L230.86 248.74L232.96 248.74L235.05 248.74L237.15 248.74L239.24 248.74L241.34 248.74L243.43 248.74L245.53 248.74L247.62 248.74L249.72 248.74L251.81 248.74L253.91 248.74L256.00 248.74" stroke="#0072BD"/></g><text x="46.10" y="381.30" font-size="10.30" stroke="#262626" stroke-width="0.12" text-anchor="middle" textLength="6.01" lengthAdjust="spacingAndGlyphs">0</text><text x="98.47" y="381.30" font-size="10.30" stroke="#262626" stroke-width="0.12" text-anchor="middle" textLength="18.04" lengthAdjust="spacingAndGlyphs">500</text><text x="150.85" y="381.30" font-size="10.30" stroke="#262626" stroke-width="0.12" text-anchor="middle" textLength="24.05" lengthAdjust="spacingAndGlyphs">1000</text><text x="203.22" y="381.30" font-size="10.30" stroke="#262626" stroke-width="0.12" text-anchor="middle" textLength="24.05" lengthAdjust="spacingAndGlyphs">1500</text><text x="255.60" y="381.30" font-size="10.30" stroke="#262626" stroke-width="0.12" text-anchor="middle" textLength="24.05" lengthAdjust="spacingAndGlyphs">2000</text><text x="41.00" y="369.90" font-size="10.30" stroke="#262626" stroke-width="0.12" text-anchor="end" textLength="12.03" lengthAdjust="spacingAndGlyphs">50</text><text x="41.00" y="321.33" font-size="10.30" stroke="#262626" stroke-width="0.12" text-anchor="end" textLength="18.04" lengthAdjust="spacingAndGlyphs">100</text><text x="41.00" y="272.77" font-size="10.30" stroke="#262626" stroke-width="0.12" text-anchor="end" textLength="18.04" lengthAdjust="spacingAndGlyphs">150</text><text x="41.00" y="224.20" font-size="10.30" stroke="#262626" stroke-width="0.12" text-anchor="end" textLength="18.04" lengthAdjust="spacingAndGlyphs">200</text><text x="151.25" y="215.10" font-size="8.50" font-weight="bold" stroke="#262626" stroke-width="0.25" text-anchor="middle" textLength="69.3" lengthAdjust="spacingAndGlyphs">Pump1 flowrate</text><text x="151.25" y="394.90" font-size="9.45" stroke="#262626" stroke-width="0.1" text-anchor="middle">Time (per sec)</text><text transform="translate(13.70 293.25) rotate(-90)" x="0" y="0" font-size="9.45" stroke="#262626" stroke-width="0.15" text-anchor="middle">U<tspan font-size="6.3" dy="3.3">1</tspan><tspan dy="-3.3"> (cm</tspan><tspan font-size="6.3" dy="-5.6">3</tspan><tspan dy="5.6">/sec)</tspan></text><clipPath id="c4"><rect x="323.00" y="218.10" width="213.50" height="148.70"/></clipPath><path d="M324.50 219.60H535.00V365.30H324.50Z" fill="none" stroke="#262626" stroke-width="1"/><path d="M324.50 365.30V363.20M324.50 219.60V221.70M377.12 365.30V363.20M377.12 219.60V221.70M429.75 365.30V363.20M429.75 219.60V221.70M482.38 365.30V363.20M482.38 219.60V221.70M535.00 365.30V363.20M535.00 219.60V221.70M324.50 365.30H326.60M535.00 365.30H532.90M324.50 316.73H326.60M535.00 316.73H532.90M324.50 268.17H326.60M535.00 268.17H532.90M324.50 219.60H326.60M535.00 219.60H532.90" stroke="#262626" stroke-width="1" fill="none"/><g clip-path="url(#c4)" fill="none" stroke-width="2" stroke-linejoin="round"><path d="M324.50 345.87L326.61 345.87L328.71 345.87L330.81 345.87L332.92 345.87L335.02 345.87L337.13 345.87L339.24 345.87L341.34 345.87L343.44 345.87L345.55 345.87L347.65 345.87L349.76 345.87L351.87 345.87L353.97 345.87L356.07 345.87L358.18 345.87L360.28 345.87L362.39 345.87L364.50 345.87L366.60 345.87L366.60 345.87L366.65 341.79L366.71 337.85L366.76 334.05L366.81 330.38L366.86 326.84L366.92 323.43L366.97 320.13L367.02 316.95L367.07 313.89L367.13 310.93L367.18 308.07L367.23 305.31L367.28 302.65L367.34 300.09L367.39 297.61L367.44 295.22L367.49 292.92L367.55 290.69L367.60 288.54L367.65 286.47L367.71 284.47L367.76 282.55L367.81 280.69L367.86 278.89L367.92 277.16L367.97 275.49L368.02 273.87L368.07 272.32L368.13 270.81L368.18 269.37L368.23 267.97L368.28 266.62L368.34 265.32L368.39 264.06L368.44 262.85L368.49 261.68L368.55 260.55L368.60 259.46L368.65 258.41L368.70 257.39L368.76 256.42L368.81 255.47L368.86 254.56L368.92 253.68L368.97 252.83L369.02 252.02L369.07 251.23L369.13 250.46L369.18 249.73L369.23 249.02L369.28 248.33L369.34 247.67L369.39 247.04L369.44 246.42L369.49 245.83L369.55 245.26L369.60 244.70L369.65 244.17L369.70 243.66L369.76 243.16L369.81 242.68L369.86 242.22L369.92 241.77L369.97 241.34L370.02 240.93L370.07 240.53L370.13 240.14L370.18 239.77L370.23 239.41L370.28 239.06L370.34 238.72L370.39 238.40L370.44 238.09L370.49 237.79L370.55 237.50L370.60 237.22L370.65 236.95L370.70 236.69L370.76 236.43L370.81 236.19L370.86 235.96L370.92 235.73L370.97 235.51L371.02 235.30L371.07 235.10L371.13 234.90L371.18 234.71L371.23 234.53L371.28 234.35L371.34 234.18L371.39 234.02L371.44 233.86L371.49 233.71L371.55 233.56L371.60 233.42L371.65 233.28L371.70 233.15L371.76 233.02L371.81 232.90L371.86 232.78L371.92 232.66L371.97 232.55L372.02 232.45L372.07 232.34L372.13 232.24L372.18 232.15L372.23 232.06L372.28 231.97L372.34 231.88L372.39 231.80L372.44 231.72L372.49 231.64L372.55 231.56L372.60 231.49L372.65 231.42L372.70 231.36L372.76 231.29L372.81 231.23L372.86 231.17L372.92 231.11L372.97 231.05L373.02 231.00L373.07 230.95L373.13 230.90L373.18 230.85L373.23 230.80L373.28 230.75L373.34 230.71L373.39 230.67L373.44 230.63L373.49 230.59L373.55 230.55L373.60 230.51L373.65 230.48L373.70 230.44L373.76 230.41L373.81 230.38L373.86 230.35L373.91 230.32L373.97 230.29L374.02 230.26L374.07 230.24L374.13 230.21L374.18 230.19L374.23 230.16L374.28 230.14L374.34 230.12L374.39 230.10L374.44 230.08L374.49 230.06L374.55 230.04L374.60 230.02L374.65 230.00L374.70 229.98L374.76 229.97L374.81 229.95L374.86 229.93L374.91 229.92L374.97 229.91L375.02 229.89L375.07 229.88L375.13 229.86L375.18 229.85L375.23 229.84L375.28 229.83L375.34 229.82L375.39 229.81L375.44 229.80L375.49 229.79L375.55 229.78L375.60 229.77L375.65 229.76L375.70 229.75L375.76 229.74L375.81 229.73L375.86 229.72L375.91 229.72L375.97 229.71L376.02 229.70L376.07 229.70L376.13 229.69L376.18 229.68L376.23 229.68L376.28 229.67L376.34 229.66L376.39 229.66L376.44 229.65L376.49 229.65L376.55 229.64L376.60 229.64L376.65 229.63L376.70 229.63L376.76 229.63L376.81 229.62L376.86 229.62L376.91 229.61L376.97 229.61L377.02 229.61L377.07 229.60L377.12 229.60L377.18 229.60L377.23 229.59L377.28 229.59L377.34 229.59L377.39 229.58L377.44 229.58L377.49 229.58L377.55 229.58L377.60 229.57L377.65 229.57L377.70 229.57L377.76 229.57L377.81 229.57L377.86 229.56L377.91 229.56L377.97 229.56L378.02 229.56L378.07 229.56L378.12 229.55L378.18 229.55L378.23 229.55L378.28 229.55L378.34 229.55L378.39 229.55L378.44 229.55L378.49 229.54L378.55 229.54L378.60 229.54L378.65 229.54L378.70 229.54L378.76 229.54L378.81 229.54L378.86 229.54L378.91 229.53L378.97 229.53L379.02 229.53L379.07 229.53L379.12 229.53L379.18 229.53L379.23 229.53L379.28 229.53L379.34 229.53L379.39 229.53L379.44 229.53L379.49 229.53L379.55 229.53L379.60 229.52L379.65 229.52L379.70 229.52L379.76 229.52L379.81 229.52L379.86 229.52L379.91 229.52L379.97 229.52L380.02 229.52L380.07 229.52L380.12 229.52L380.18 229.52L380.23 229.52L380.28 229.52L380.34 229.52L380.39 229.52L380.44 229.52L380.49 229.52L380.55 229.52L380.60 229.52L380.65 229.52L380.70 229.52L380.76 229.52L380.81 229.52L380.86 229.51L380.91 229.51L380.97 229.51L381.02 229.51L381.07 229.51L381.12 229.51L381.18 229.51L381.23 229.51L381.28 229.51L381.33 229.51L381.39 229.51L381.44 229.51L381.49 229.51L381.55 229.51L381.60 229.51L381.65 229.51L381.70 229.51L381.76 229.51L381.81 229.51L381.86 229.51L381.91 229.51L381.97 229.51L382.02 229.51L382.07 229.51L382.12 229.51L382.18 229.51L382.23 229.51L382.28 229.51L382.33 229.51L382.39 229.51L382.44 229.51L382.49 229.51L382.55 229.51L382.60 229.51L382.65 229.51L382.70 229.51L382.76 229.51L382.81 229.51L382.86 229.51L382.91 229.51L382.97 229.51L383.02 229.51L383.07 229.51L383.12 229.51L383.18 229.51L383.23 229.51L383.28 229.51L383.33 229.51L383.39 229.51L383.44 229.51L385.55 229.51L387.65 229.51L389.75 229.51L391.86 229.51L393.97 229.51L396.07 229.51L398.18 229.51L400.28 229.51L402.38 229.51L404.49 229.51L406.60 229.51L408.70 229.51L408.70 229.51L408.75 232.98L408.81 236.35L408.86 239.62L408.91 242.79L408.96 245.87L409.02 248.85L409.07 251.75L409.12 254.56L409.17 257.28L409.23 259.93L409.28 262.49L409.33 264.98L409.38 267.40L409.44 269.74L409.49 272.01L409.54 274.22L409.59 276.36L409.65 278.43L409.70 280.44L409.75 282.40L409.81 284.29L409.86 286.13L409.91 287.91L409.96 289.64L410.02 291.32L410.07 292.95L410.12 294.53L410.17 296.06L410.23 297.55L410.28 298.99L410.33 300.39L410.38 301.75L410.44 303.06L410.49 304.34L410.54 305.58L410.59 306.78L410.65 307.95L410.70 309.08L410.75 310.18L410.81 311.25L410.86 312.28L410.91 313.28L410.96 314.26L411.02 315.20L411.07 316.12L411.12 317.00L411.17 317.87L411.23 318.70L411.28 319.51L411.33 320.30L411.38 321.06L411.44 321.80L411.49 322.52L411.54 323.22L411.59 323.89L411.65 324.55L411.70 325.19L411.75 325.80L411.80 326.40L411.86 326.98L411.91 327.55L411.96 328.10L412.02 328.63L412.07 329.14L412.12 329.64L412.17 330.12L412.23 330.60L412.28 331.05L412.33 331.49L412.38 331.92L412.44 332.34L412.49 332.74L412.54 333.13L412.59 333.52L412.65 333.88L412.70 334.24L412.75 334.59L412.80 334.93L412.86 335.25L412.91 335.57L412.96 335.88L413.02 336.18L413.07 336.47L413.12 336.75L413.17 337.02L413.23 337.28L413.28 337.54L413.33 337.79L413.38 338.03L413.44 338.26L413.49 338.49L413.54 338.71L413.59 338.92L413.65 339.13L413.70 339.33L413.75 339.53L413.80 339.72L413.86 339.90L413.91 340.08L413.96 340.25L414.02 340.42L414.07 340.58L414.12 340.74L414.17 340.89L414.23 341.04L414.28 341.19L414.33 341.33L414.38 341.46L414.44 341.59L414.49 341.72L414.54 341.85L414.59 341.97L414.65 342.08L414.70 342.20L414.75 342.31L414.80 342.41L414.86 342.52L414.91 342.62L414.96 342.71L415.01 342.81L415.07 342.90L415.12 342.99L415.17 343.07L415.23 343.16L415.28 343.24L415.33 343.32L415.38 343.39L415.44 343.47L415.49 343.54L415.54 343.61L415.59 343.68L415.65 343.74L415.70 343.81L415.75 343.87L415.80 343.93L415.86 343.99L415.91 344.04L415.96 344.10L416.01 344.15L416.07 344.20L416.12 344.25L416.17 344.30L416.23 344.35L416.28 344.39L416.33 344.44L416.38 344.48L416.44 344.52L416.49 344.56L416.54 344.60L416.59 344.64L416.65 344.67L416.70 344.71L416.75 344.75L416.80 344.78L416.86 344.81L416.91 344.84L416.96 344.87L417.01 344.90L417.07 344.93L417.12 344.96L417.17 344.99L417.23 345.01L417.28 345.04L417.33 345.07L417.38 345.09L417.44 345.11L417.49 345.14L417.54 345.16L417.59 345.18L417.65 345.20L417.70 345.22L417.75 345.24L417.80 345.26L417.86 345.28L417.91 345.29L417.96 345.31L418.01 345.33L418.07 345.34L418.12 345.36L418.17 345.38L418.23 345.39L418.28 345.40L418.33 345.42L418.38 345.43L418.44 345.45L418.49 345.46L418.54 345.47L418.59 345.48L418.65 345.49L418.70 345.51L418.75 345.52L418.80 345.53L418.86 345.54L418.91 345.55L418.96 345.56L419.01 345.57L419.07 345.58L419.12 345.58L419.17 345.59L419.23 345.60L419.28 345.61L419.33 345.62L419.38 345.63L419.44 345.63L419.49 345.64L419.54 345.65L419.59 345.65L419.65 345.66L419.70 345.67L419.75 345.67L419.80 345.68L419.86 345.68L419.91 345.69L419.96 345.70L420.01 345.70L420.07 345.71L420.12 345.71L420.17 345.72L420.22 345.72L420.28 345.73L420.33 345.73L420.38 345.73L420.44 345.74L420.49 345.74L420.54 345.75L420.59 345.75L420.65 345.75L420.70 345.76L420.75 345.76L420.80 345.76L420.86 345.77L420.91 345.77L420.96 345.77L421.01 345.78L421.07 345.78L421.12 345.78L421.17 345.78L421.22 345.79L421.28 345.79L421.33 345.79L421.38 345.79L421.44 345.80L421.49 345.80L421.54 345.80L421.59 345.80L421.65 345.81L421.70 345.81L421.75 345.81L421.80 345.81L421.86 345.81L421.91 345.82L421.96 345.82L422.01 345.82L422.07 345.82L422.12 345.82L422.17 345.82L422.22 345.83L422.28 345.83L422.33 345.83L422.38 345.83L422.44 345.83L422.49 345.83L422.54 345.83L422.59 345.83L422.65 345.84L422.70 345.84L422.75 345.84L422.80 345.84L422.86 345.84L422.91 345.84L422.96 345.84L423.01 345.84L423.07 345.84L423.12 345.84L423.17 345.85L423.22 345.85L423.28 345.85L423.33 345.85L423.38 345.85L423.44 345.85L423.49 345.85L423.54 345.85L423.59 345.85L423.65 345.85L423.70 345.85L423.75 345.85L423.80 345.85L423.86 345.85L423.91 345.86L423.96 345.86L424.01 345.86L424.07 345.86L424.12 345.86L424.17 345.86L424.22 345.86L424.28 345.86L424.33 345.86L424.38 345.86L424.43 345.86L424.49 345.86L424.54 345.86L424.59 345.86L424.65 345.86L424.70 345.86L424.75 345.86L424.80 345.86L424.86 345.86L424.91 345.86L424.96 345.86L425.01 345.86L425.07 345.86L425.12 345.86L425.17 345.86L425.22 345.86L425.28 345.87L425.33 345.87L425.38 345.87L425.43 345.87L425.49 345.87L425.54 345.87L427.64 345.87L429.75 345.87L431.86 345.87L433.96 345.87L436.06 345.87L438.17 345.87L440.27 345.87L442.38 345.87L444.49 345.87L446.59 345.87L448.69 345.87L450.80 345.87L452.90 345.87L455.01 345.87L457.12 345.87L459.22 345.87L461.32 345.87L463.43 345.87L465.53 345.87L467.64 345.87L469.75 345.87L471.85 345.87L473.96 345.87L476.06 345.87L478.16 345.87L480.27 345.87L482.38 345.87L484.48 345.87L486.59 345.87L488.69 345.87L490.79 345.87L492.90 345.87L495.00 345.87L497.11 345.87L499.22 345.87L501.32 345.87L503.43 345.87L505.53 345.87L507.63 345.87L509.74 345.87L511.85 345.87L513.95 345.87L516.06 345.87L518.16 345.87L520.26 345.87L522.37 345.87L524.48 345.87L526.58 345.87L528.68 345.87L530.79 345.87L532.89 345.87L535.00 345.87" stroke="#0072BD"/></g><text x="324.10" y="381.30" font-size="10.30" stroke="#262626" stroke-width="0.12" text-anchor="middle" textLength="6.01" lengthAdjust="spacingAndGlyphs">0</text><text x="376.73" y="381.30" font-size="10.30" stroke="#262626" stroke-width="0.12" text-anchor="middle" textLength="18.04" lengthAdjust="spacingAndGlyphs">500</text><text x="429.35" y="381.30" font-size="10.30" stroke="#262626" stroke-width="0.12" text-anchor="middle" textLength="24.05" lengthAdjust="spacingAndGlyphs">1000</text><text x="481.98" y="381.30" font-size="10.30" stroke="#262626" stroke-width="0.12" text-anchor="middle" textLength="24.05" lengthAdjust="spacingAndGlyphs">1500</text><text x="534.60" y="381.30" font-size="10.30" stroke="#262626" stroke-width="0.12" text-anchor="middle" textLength="24.05" lengthAdjust="spacingAndGlyphs">2000</text><text x="319.00" y="369.90" font-size="10.30" stroke="#262626" stroke-width="0.12" text-anchor="end" textLength="18.04" lengthAdjust="spacingAndGlyphs">150</text><text x="319.00" y="321.33" font-size="10.30" stroke="#262626" stroke-width="0.12" text-anchor="end" textLength="18.04" lengthAdjust="spacingAndGlyphs">200</text><text x="319.00" y="272.77" font-size="10.30" stroke="#262626" stroke-width="0.12" text-anchor="end" textLength="18.04" lengthAdjust="spacingAndGlyphs">250</text><text x="319.00" y="224.20" font-size="10.30" stroke="#262626" stroke-width="0.12" text-anchor="end" textLength="18.04" lengthAdjust="spacingAndGlyphs">300</text><text x="429.75" y="215.10" font-size="8.50" font-weight="bold" stroke="#262626" stroke-width="0.25" text-anchor="middle" textLength="69.3" lengthAdjust="spacingAndGlyphs">Pump2 flowrate</text><text x="429.75" y="394.90" font-size="9.45" stroke="#262626" stroke-width="0.1" text-anchor="middle">Time (per sec)</text><text transform="translate(291.70 293.25) rotate(-90)" x="0" y="0" font-size="9.45" stroke="#262626" stroke-width="0.15" text-anchor="middle">U<tspan font-size="6.3" dy="3.3">2</tspan><tspan dy="-3.3"> (cm</tspan><tspan font-size="6.3" dy="-5.6">3</tspan><tspan dy="5.6">/sec)</tspan></text></svg></body></html>
